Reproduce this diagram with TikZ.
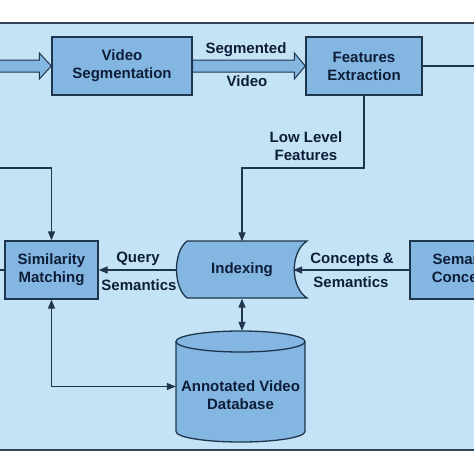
\documentclass[tikz,border=0pt]{standalone}
\usepackage{fontspec}
\setmainfont{Liberation Sans}
\usetikzlibrary{arrows.meta}

\definecolor{panelblue}{HTML}{C4E3F6}
\definecolor{boxblue}{HTML}{84B6E2}
\definecolor{edgenavy}{HTML}{1F354D}
\definecolor{textnavy}{HTML}{0E1E38}

\tikzset{
  block/.style={draw=edgenavy, fill=boxblue, line width=1.3pt, align=center, inner sep=0pt,
    font=\bfseries\fontsize{15}{18}\selectfont, text=textnavy},
  lbl/.style={align=center, font=\bfseries\fontsize{15}{18}\selectfont, text=textnavy},
  link/.style={draw=edgenavy, line width=1.3pt, -{Triangle[width=7pt,length=9pt]}},
  twoway/.style={draw=edgenavy, line width=1.3pt, {Triangle[width=7pt,length=9pt]}-{Triangle[width=7pt,length=9pt]}},
  fat/.style={draw=edgenavy, fill=boxblue, line width=1pt, line join=miter},
}

\begin{document}
\begin{tikzpicture}[x=1pt, y=-1pt]

        % Page and panel
        \useasboundingbox (0,0) rectangle (474,474);
        \fill[white] (0,0) rectangle (474,474);
        \fill[panelblue] (0,23) rectangle (474,450);
        \draw[edgenavy!80!gray, line width=1.6pt] (0,23) -- (474,23);
        \draw[edgenavy!80!gray, line width=1.6pt] (0,450) -- (474,450);

        % Boxes
        \node[block, minimum width=140pt, minimum height=58pt] (vseg) at (122,66) {Video\\Segmentation};
        \node[block, minimum width=116pt, minimum height=58pt] (fext) at (364,66) {Features\\Extraction};
        \node[block, minimum width=93pt, minimum height=58pt] (simm) at (51.5,270) {Similarity\\Matching};
        \node[block, minimum width=112pt, minimum height=58pt] (semc) at (466,270) {Semantic\\Concepts};

        % Indexing (stored data shape)
        \draw[fat, line width=1.3pt] (187,241) -- (307,241)
            .. controls (290,252) and (290,287) .. (307,298) -- (187,298)
            .. controls (173,287) and (173,252) .. (187,241) -- cycle;
        \node[lbl, minimum width=130pt, minimum height=57pt, inner sep=0pt] (idx) at (242,270) {Indexing};

        % Annotated video database (cylinder)
        \draw[fat, line width=1.3pt] (176,341.5) -- (176,431.5) arc (180:0:64.5 and 10.5) -- (305,341.5);
        \draw[fat, line width=1.3pt] (240.5,341.5) ellipse (64.5 and 10.5);
        \node[minimum width=129pt, minimum height=111pt, inner sep=0pt] (adb) at (240.5,386.5) {};
        \node[lbl] (adbtext) at (240.5,395) {Annotated Video\\Database};

        % Free ends at the panel edges
        \coordinate (inA) at (0,66);
        \coordinate (inB) at (0,168);
        \coordinate (inC) at (0,270);
        \coordinate (outA) at (474,66);
        \coordinate (llf) at (242,168);

        % Hollow arrows
        \draw[fat] ([yshift=6pt]inA) -- ([xshift=-12pt,yshift=6pt]vseg.west) -- ([xshift=-12pt,yshift=13pt]vseg.west)
            -- (vseg.west) -- ([xshift=-12pt,yshift=-13pt]vseg.west) -- ([xshift=-12pt,yshift=-6pt]vseg.west)
            -- ([yshift=-6pt]inA);
        \draw[fat] ([yshift=6pt]vseg.east) -- ([xshift=-11pt,yshift=6pt]fext.west) -- ([xshift=-11pt,yshift=13pt]fext.west)
            -- (fext.west) -- ([xshift=-11pt,yshift=-13pt]fext.west) -- ([xshift=-11pt,yshift=-6pt]fext.west)
            -- ([yshift=-6pt]vseg.east) -- cycle;
        \node[lbl] (segtop) at (246,50) {Segmented};
        \node[lbl] (segbot) at (247,81) {Video};

        % Connectors
        \draw[edgenavy, line width=1.3pt] (fext.east) -- (outA);
        \draw[link] (fext.south) |- (llf) -- (idx.north);
        \node[lbl] (lowlevel) at (306,146) {Low Level\\Features};
        \draw[link] (inB) -| (simm.north);
        \draw[edgenavy, line width=1.3pt] (simm.west) -- (inC);
        \draw[link] (idx.west) -- (simm.east);
        \node[lbl] (qtop) at (138,259) {Query};
        \node[lbl] (qbot) at (139,285) {Semantics};
        \draw[link] (semc.west) -- ([xshift=-14pt]idx.east);
        \node[lbl] (ctop) at (352,260) {Concepts \&};
        \node[lbl] (cbot) at (351,282) {Semantics};
        \draw[twoway] (idx.south) -- (idx.south |- adb.north);
        \draw[twoway] (simm.south) |- (adb.west);

    \end{tikzpicture}
\end{document}
